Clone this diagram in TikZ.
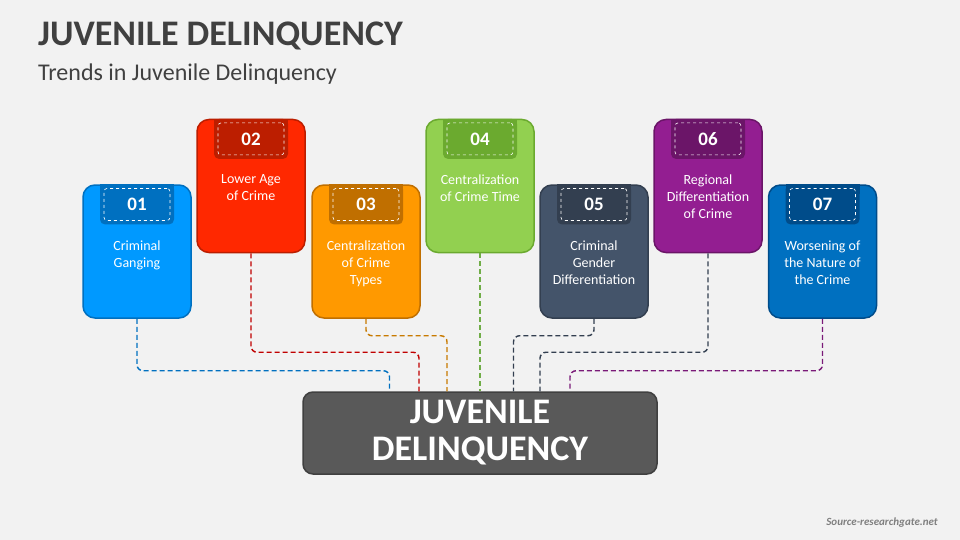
\documentclass[tikz,border=0pt]{standalone}
\usepackage{fontspec}
\setmainfont{Carlito}
\usetikzlibrary{positioning,calc}

\definecolor{bgc}{HTML}{F2F2F2}
\definecolor{ink}{HTML}{404040}
\definecolor{srcgray}{HTML}{7F7F7F}
\definecolor{corefill}{HTML}{595959}
% card fills
\definecolor{c1}{HTML}{0099FF}
\definecolor{c2}{HTML}{FF2800}
\definecolor{c3}{HTML}{FF9900}
\definecolor{c4}{HTML}{92D050}
\definecolor{c5}{HTML}{44546A}
\definecolor{c6}{HTML}{931E91}
\definecolor{c7}{HTML}{0070C0}
% borders and tabs
\definecolor{d1}{HTML}{0070C0}
\definecolor{d2}{HTML}{BC1E00}
\definecolor{d3}{HTML}{C06F00}
\definecolor{d4}{HTML}{6BAA2F}
\definecolor{d5}{HTML}{333F50}
\definecolor{d6}{HTML}{6B1568}
\definecolor{d7}{HTML}{004C8A}
% connectors
\definecolor{l1}{HTML}{0070C0}
\definecolor{l2}{HTML}{C00000}
\definecolor{l3}{HTML}{C87A00}
\definecolor{l4}{HTML}{70AD47}
\definecolor{l5}{HTML}{333F50}
\definecolor{l6}{HTML}{333F50}
\definecolor{l7}{HTML}{7A1A78}

\begin{document}
\begin{tikzpicture}[x=1pt, y=-1pt,
  card/.style={rectangle, rounded corners=12pt, draw, line width=1.5pt, minimum width=108pt, minimum height=133pt, inner sep=0pt},
  tabbox/.style={rectangle, rounded corners=5pt, minimum width=74pt, minimum height=40pt, inner sep=0pt, anchor=north},
  numtag/.style={rectangle, rounded corners=3pt, draw=white, dashed, line width=0.6pt, minimum width=66pt, minimum height=32pt, inner sep=0pt, text=white, font=\bfseries\fontsize{19}{19}\selectfont},
  cardtext/.style={anchor=north, align=center, inner sep=0pt, text=white, font=\fontsize{14}{17}\selectfont},
  core/.style={rectangle, rounded corners=10pt, fill=corefill, draw=ink, line width=1.5pt, minimum width=354pt, minimum height=82pt, align=center, text=white, font=\bfseries\fontsize{36}{37}\selectfont},
  link/.style={line width=1.4pt, rounded corners=6pt, dash pattern=on 5pt off 3pt},
]
  \path[use as bounding box, fill=bgc] (0,0) rectangle (960,540);

  \node[anchor=base west, inner sep=0pt, text=ink, font=\bfseries\fontsize{36}{36}\selectfont] (title) at (38,46) {JUVENILE DELINQUENCY};
  \node[anchor=base west, inner sep=0pt, text=ink, font=\fontsize{24}{24}\selectfont] (subtitle) at (38,81) {Trends in Juvenile Delinquency};

  \node[card, fill=c1, draw=d1] (box1) at (137,251.5) {};
  \node[card, fill=c2, draw=d2] (box2) at (251,186) {};
  \node[card, fill=c3, draw=d3] (box3) at (366,251.5) {};
  \node[card, fill=c4, draw=d4] (box4) at (480,186) {};
  \node[card, fill=c5, draw=d5] (box5) at (594,251.5) {};
  \node[card, fill=c6, draw=d6] (box6) at (708,186) {};
  \node[card, fill=c7, draw=d7] (box7) at (822.5,251.5) {};

  \foreach \i in {1,...,7} {
    \fill[d\i] ([xshift=-37pt]box\i.north) rectangle ([xshift=37pt,yshift=-10pt]box\i.north);
    \node[tabbox, fill=d\i] (tab\i) at (box\i.north) {};
    \node[numtag] (num\i) at (tab\i) {0\i};
  }

  \node[cardtext] (txt1) at ([yshift=-56pt]box1.north) {Criminal\\Ganging};
  \node[cardtext] (txt2) at ([yshift=-56pt]box2.north) {Lower Age\\of Crime};
  \node[cardtext] (txt3) at ([yshift=-56pt]box3.north) {Centralization\\of Crime\\Types};
  \node[cardtext] (txt4) at ([yshift=-56pt]box4.north) {Centralization\\of Crime Time};
  \node[cardtext] (txt5) at ([yshift=-56pt]box5.north) {Criminal\\Gender\\Differentiation};
  \node[cardtext] (txt6) at ([yshift=-56pt]box6.north) {Regional\\Differentiation\\of Crime};
  \node[cardtext] (txt7) at ([yshift=-56pt]box7.north) {Worsening of\\the Nature of\\the Crime};

  \node[core] (core) at (480,433) {JUVENILE\\DELINQUENCY};

  \foreach \i/\d/\s in {1/52/-90.5, 2/99/-61, 3/17/-33, 5/17/33.5, 6/99/60, 7/52/90}
    {\draw[link, l\i] (box\i.south) -- ++(0,\d) -| ([xshift=\s pt]core.north);}
  \draw[link, l4] (box4.south) -- (core.north);

  \node[anchor=base east, inner sep=0pt, text=srcgray, font=\bfseries\itshape\fontsize{11}{11}\selectfont] (source) at (938,525) {Source-researchgate.net};
\end{tikzpicture}
\end{document}
